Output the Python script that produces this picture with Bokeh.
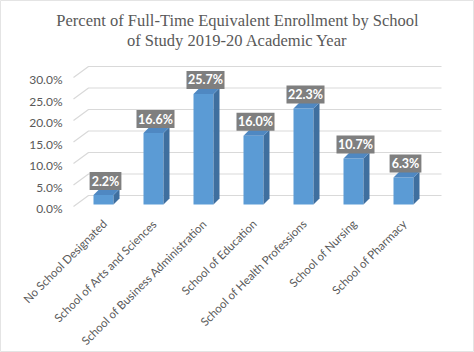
from bokeh.plotting import figure
from bokeh.models import Range1d, Label, ColumnDataSource
from bokeh.core.properties import value
from bokeh.embed import file_html
from bokeh.resources import INLINE
import math

# ---- data ----
categories = ["No School Designated", "School of Arts and Sciences",
              "School of Business Administration", "School of Education",
              "School of Health Professions", "School of Nursing",
              "School of Pharmacy"]
percents = [2.2, 16.6, 25.7, 16.0, 22.3, 10.7, 6.3]
y_ticks = [0, 5, 10, 15, 20, 25, 30]
y_tick_labels = ["0.0%", "5.0%", "10.0%", "15.0%", "20.0%", "25.0%", "30.0%"]
title_lines = ["Percent of Full-Time Equivalent Enrollment by School",
               "of Study 2019-20 Academic Year"]

# ---- geometry (pixel scale helpers) ----
W, H = 474, 352
PX_X = 50.0      # pixels per category step
PX_Y = 4.3       # pixels per percent
X0 = 103.0       # pixel x of first category
Y0 = 204.0       # pixel y (from top) of 0 %

def dx(px):
    return px / PX_X

def dy(px):
    return px / PX_Y

p = figure(width=W, height=H, output_backend="svg", toolbar_location=None,
           x_range=Range1d(-X0 / PX_X, (W - X0) / PX_X),
           y_range=Range1d(-(H - Y0) / PX_Y, Y0 / PX_Y),
           x_axis_location=None, y_axis_location=None, min_border=0,
           title=None)
p.grid.visible = False
p.outline_line_color = "#e4e4e4"
p.background_fill_color = "white"
p.border_fill_color = "white"

GRID = "#d9d9d9"
TXT = "#595959"
FONT = "Lato"

# gridlines: slanted floor part + back wall
depth_x, depth_y = dx(15), dy(11)
back_off = dy(9)
xs, ys = [], []
for v in y_ticks:
    yb = v + back_off
    xs.append([dx(73 - X0), dx(73 - X0) + depth_x, dx(441 - X0)])
    ys.append([yb - depth_y, yb, yb])
p.multi_line(xs, ys, line_color=GRID, line_width=1.2)

# tick labels
p.text(x=[dx(62 - X0)] * len(y_ticks), y=[v - dy(4) for v in y_ticks],
       text=y_tick_labels, text_font=value(FONT), text_font_size="12px",
       text_color=TXT, text_align="right", text_baseline="middle")

# bars (3D column)
hw = dx(10)
sx, sy = dx(6), dy(6)
idx = list(range(len(categories)))
p.quad(left=[i - hw for i in idx], right=[i + hw for i in idx],
       bottom=[0] * len(idx), top=percents, fill_color="#5b9bd5",
       line_color=None)
side_x, side_y, top_x, top_y = [], [], [], []
for i, v in zip(idx, percents):
    side_x.append([i + hw, i + hw + sx, i + hw + sx, i + hw])
    side_y.append([0, sy, v + sy, v])
    top_x.append([i - hw, i + hw, i + hw + sx, i - hw + sx])
    top_y.append([v, v, v + sy, v + sy])
p.patches(side_x, side_y, fill_color="#3f6f9f", line_color=None)
p.patches(top_x, top_y, fill_color="#4f88c2", line_color=None)

# value labels
lbl = ["%.1f%%" % v for v in percents]
box_w = [dx(8 + 6.2 * len(s) - 1) for s in lbl]
box_h = dy(18)
p.rect(x=[i + dx(2) for i in idx], y=[v + dy(5) + box_h / 2 for v in percents],
       width=box_w, height=box_h, fill_color="#7f7f7f", line_color=None)
p.text(x=[i + dx(2) for i in idx], y=[v + dy(5) + box_h / 2 for v in percents],
       text=lbl, text_font=value(FONT), text_font_style="bold",
       text_font_size="12.5px", text_color="white", text_align="center",
       text_baseline="middle")

# category labels (rotated 45 degrees)
p.text(x=[i + dx(1) for i in idx], y=[dy(-17)] * len(idx), text=categories,
       angle=math.pi / 4, text_font=value(FONT), text_font_size="11.5px",
       text_color=TXT, text_align="right", text_baseline="middle")

# title
for k, line in enumerate(title_lines):
    p.add_layout(Label(x=W / 2, y=H - 20 - 20 * k, x_units="screen",
                       y_units="screen", text=line, text_align="center",
                       text_baseline="middle",
                       text_font="Liberation Serif", text_font_size="16.5px",
                       text_color=TXT))

open("out.html", "w").write(file_html(p, INLINE))
